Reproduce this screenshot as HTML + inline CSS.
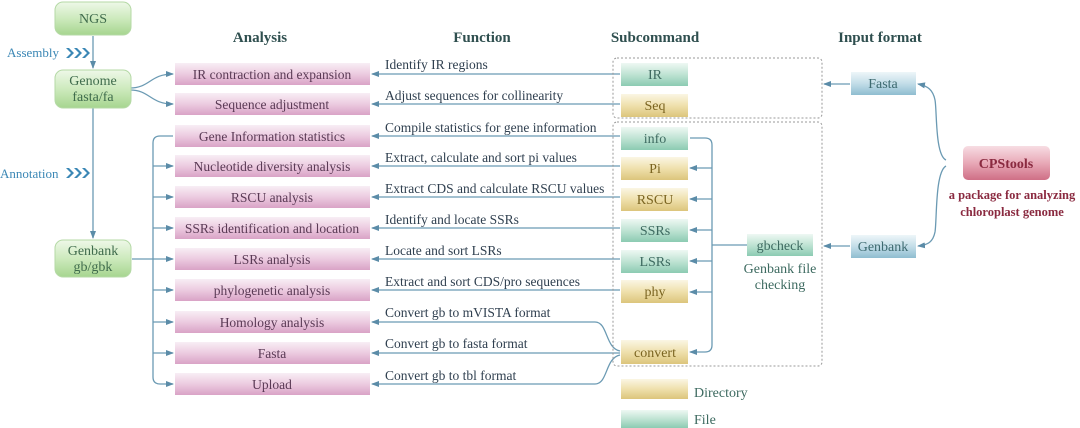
<!DOCTYPE html>
<html><head><meta charset="utf-8"><style>
html,body{margin:0;padding:0;background:#fff}
svg{display:block}
svg text{font-family:"Liberation Serif","DejaVu Serif","Times New Roman",serif}
</style></head><body>
<svg width="1080" height="428" viewBox="0 0 1080 428" xmlns="http://www.w3.org/2000/svg" font-family="Liberation Serif, DejaVu Serif, serif">
<defs>
<linearGradient id="pk" x1="0" y1="0" x2="0" y2="1"><stop offset="0" stop-color="#f8eef5"/><stop offset="0.5" stop-color="#eccbe0"/><stop offset="1" stop-color="#d9a3c6"/></linearGradient>
<linearGradient id="gr" x1="0" y1="0" x2="0" y2="1"><stop offset="0" stop-color="#eef8f3"/><stop offset="0.5" stop-color="#bfe3d3"/><stop offset="1" stop-color="#8ccbb2"/></linearGradient>
<linearGradient id="ye" x1="0" y1="0" x2="0" y2="1"><stop offset="0" stop-color="#fbf6e4"/><stop offset="0.5" stop-color="#efe0ad"/><stop offset="1" stop-color="#dcc57c"/></linearGradient>
<linearGradient id="bl" x1="0" y1="0" x2="0" y2="1"><stop offset="0" stop-color="#eef6f9"/><stop offset="0.5" stop-color="#c3dde8"/><stop offset="1" stop-color="#8fbdd0"/></linearGradient>
<linearGradient id="lg" x1="0" y1="0" x2="0" y2="1"><stop offset="0" stop-color="#eef8e8"/><stop offset="0.5" stop-color="#cdeabd"/><stop offset="1" stop-color="#a6d58f"/></linearGradient>
<linearGradient id="rd" x1="0" y1="0" x2="0" y2="1"><stop offset="0" stop-color="#f7dde3"/><stop offset="0.5" stop-color="#e8a9b7"/><stop offset="1" stop-color="#cf6f86"/></linearGradient>
<marker id="a" markerWidth="8" markerHeight="6" refX="7" refY="3" orient="auto" markerUnits="userSpaceOnUse"><path d="M0,0 L8,3 L0,6 z" fill="#5b8ca8"/></marker>
</defs>
<g stroke="#6b9ab3" stroke-width="1.3" fill="none">
<path d="M93 36 V68" marker-end="url(#a)"/>
<path d="M93 108 V238" marker-end="url(#a)"/>
<path d="M130 88 C150 88 150 74 173 74" marker-end="url(#a)"/>
<path d="M130 90 C150 90 150 104 173 104" marker-end="url(#a)"/>
<path d="M132 259 H173" marker-end="url(#a)"/>
<path d="M173 136 H160 Q153 136 153 143 V377 Q153 384 160 384 H173" marker-end="url(#a)"/>
<path d="M153 166 H173" marker-end="url(#a)"/>
<path d="M153 197 H173" marker-end="url(#a)"/>
<path d="M153 228 H173" marker-end="url(#a)"/>
<path d="M153 290 H173" marker-end="url(#a)"/>
<path d="M153 322 H173" marker-end="url(#a)"/>
<path d="M153 353 H173" marker-end="url(#a)"/>
<path d="M620 74 H372" marker-end="url(#a)"/>
<path d="M620 104 H372" marker-end="url(#a)"/>
<path d="M620 136 H372" marker-end="url(#a)"/>
<path d="M620 166 H372" marker-end="url(#a)"/>
<path d="M620 197 H372" marker-end="url(#a)"/>
<path d="M620 228 H372" marker-end="url(#a)"/>
<path d="M620 259 H372" marker-end="url(#a)"/>
<path d="M620 290 H372" marker-end="url(#a)"/>
<path d="M620 353 H372" marker-end="url(#a)"/>
<path d="M620 351 C605 348 608 322 595 322 H372" marker-end="url(#a)"/>
<path d="M620 355 C605 358 608 384 595 384 H372" marker-end="url(#a)"/>
<path d="M690 138 H705 Q712 138 712 145 V345 Q712 352 705 352 H690" marker-end="url(#a)"/>
<path d="M712 168 H690" marker-end="url(#a)"/>
<path d="M712 199 H690" marker-end="url(#a)"/>
<path d="M712 230 H690" marker-end="url(#a)"/>
<path d="M712 261 H690" marker-end="url(#a)"/>
<path d="M712 292 H690" marker-end="url(#a)"/>
<path d="M747 245 H712"/>
<path d="M850 84 H824" marker-end="url(#a)"/>
<path d="M850 246 H824" marker-end="url(#a)"/>
<path d="M946 160 C935 155 937 110 935 100 C933 90 928 86 918 84" marker-end="url(#a)"/>
<path d="M946 166 C935 172 937 220 935 232 C933 242 928 245 918 246" marker-end="url(#a)"/>
</g>
<g stroke="#999" stroke-width="1" stroke-dasharray="2,2" fill="none">
<rect x="613" y="58" width="209" height="60" rx="4"/>
<rect x="613" y="122" width="209" height="244" rx="4"/>
</g>
<g fill="url(#lg)" stroke="#b5d9a6"><rect x="55" y="2" width="76" height="33" rx="8"/><rect x="55" y="70" width="76" height="38" rx="8"/><rect x="55" y="240" width="76" height="37" rx="8"/></g>
<g font-size="14" fill="#3f6b4c" text-anchor="middle"><text x="93" y="23">NGS</text><text x="93" y="85">Genome</text><text x="93" y="101">fasta/fa</text><text x="93" y="255">Genbank</text><text x="93" y="271">gb/gbk</text></g>
<g font-size="13" fill="#3b87b5"><text x="7" y="57">Assembly</text><text x="0" y="178">Annotation</text></g>
<g fill="#3b87b5"><path d="M66 48 l5 5 -5 5 h3 l5 -5 -5 -5z M74 48 l5 5 -5 5 h3 l5 -5 -5 -5z M82 48 l5 5 -5 5 h3 l5 -5 -5 -5z"/>
<path d="M66 168 l5 5 -5 5 h3 l5 -5 -5 -5z M74 168 l5 5 -5 5 h3 l5 -5 -5 -5z M82 168 l5 5 -5 5 h3 l5 -5 -5 -5z"/></g>
<g font-size="15" font-weight="bold" fill="#2f4f4f" text-anchor="middle"><text x="260" y="42">Analysis</text><text x="482" y="42">Function</text><text x="655" y="42">Subcommand</text><text x="880" y="42">Input format</text></g>
<g fill="url(#pk)">
<rect x="175" y="63" width="195" height="22"/><rect x="175" y="93" width="195" height="22"/><rect x="175" y="125" width="195" height="22"/><rect x="175" y="155" width="195" height="22"/><rect x="175" y="186" width="195" height="22"/><rect x="175" y="217" width="195" height="22"/><rect x="175" y="248" width="195" height="22"/><rect x="175" y="279" width="195" height="22"/><rect x="175" y="311" width="195" height="22"/><rect x="175" y="342" width="195" height="22"/><rect x="175" y="373" width="195" height="22"/>
</g>
<g font-size="13.5" fill="#5a3a55" text-anchor="middle">
<text x="272" y="79">IR contraction and expansion</text><text x="272" y="109">Sequence adjustment</text><text x="272" y="141">Gene Information statistics</text><text x="272" y="171">Nucleotide diversity analysis</text><text x="272" y="202">RSCU analysis</text><text x="272" y="233">SSRs identification and location</text><text x="272" y="264">LSRs analysis</text><text x="272" y="295">phylogenetic analysis</text><text x="272" y="327">Homology analysis</text><text x="272" y="358">Fasta</text><text x="272" y="389">Upload</text>
</g>
<g font-size="13.5" fill="#2f3f4f">
<text x="385" y="69">Identify IR regions</text><text x="385" y="100">Adjust sequences for collinearity</text><text x="385" y="132">Compile statistics for gene information</text><text x="385" y="162">Extract, calculate and sort pi values</text><text x="385" y="193">Extract CDS and calculate RSCU values</text><text x="385" y="224">Identify and locate SSRs</text><text x="385" y="255">Locate and sort LSRs</text><text x="385" y="286">Extract and sort CDS/pro sequences</text><text x="385" y="317">Convert gb to mVISTA format</text><text x="385" y="348">Convert gb to fasta format</text><text x="385" y="380">Convert gb to tbl format</text>
</g>
<rect x="621" y="63" width="67" height="23" fill="url(#gr)"/>
<rect x="621" y="94" width="67" height="23" fill="url(#ye)"/>
<rect x="621" y="127" width="67" height="23" fill="url(#gr)"/>
<rect x="621" y="157" width="67" height="23" fill="url(#ye)"/>
<rect x="621" y="188" width="67" height="23" fill="url(#ye)"/>
<rect x="621" y="219" width="67" height="23" fill="url(#gr)"/>
<rect x="621" y="250" width="67" height="23" fill="url(#gr)"/>
<rect x="621" y="280" width="67" height="23" fill="url(#ye)"/>
<rect x="621" y="340" width="67" height="24" fill="url(#ye)"/>
<rect x="621" y="379" width="67" height="20" fill="url(#ye)"/>
<rect x="621" y="410" width="67" height="18" fill="url(#gr)"/>
<rect x="747" y="234" width="66" height="22" fill="url(#gr)"/>
<rect x="851" y="72" width="65" height="23" fill="url(#bl)"/>
<rect x="851" y="235" width="65" height="23" fill="url(#bl)"/>
<rect x="963" y="146" width="87" height="34" rx="5" fill="url(#rd)"/>
<g font-size="14" text-anchor="middle">
<text x="655" y="79" fill="#3d6a60">IR</text><text x="655" y="110" fill="#7a6420">Seq</text><text x="655" y="143" fill="#3d6a60">info</text><text x="655" y="173" fill="#7a6420">Pi</text><text x="655" y="204" fill="#7a6420">RSCU</text><text x="655" y="235" fill="#3d6a60">SSRs</text><text x="655" y="266" fill="#3d6a60">LSRs</text><text x="655" y="296" fill="#7a6420">phy</text><text x="655" y="357" fill="#7a6420">convert</text>
<text x="780" y="250" fill="#3d6a60">gbcheck</text><text x="780" y="273" fill="#3d6a60">Genbank file</text><text x="780" y="289" fill="#3d6a60">checking</text>
<text x="883" y="88" fill="#3d6a70">Fasta</text><text x="883" y="251" fill="#3d6a70">Genbank</text>
<text x="1006" y="168" fill="#8a2a40" font-weight="bold">CPStools</text>
<text x="1012" y="199" fill="#8a2a40" font-weight="bold" font-size="12.5">a package for analyzing</text>
<text x="1012" y="216" fill="#8a2a40" font-weight="bold" font-size="12.5">chloroplast genome</text>
</g>
<g font-size="14" fill="#3d6a60"><text x="694" y="397">Directory</text><text x="694" y="424">File</text></g>
</svg>
</body></html>
